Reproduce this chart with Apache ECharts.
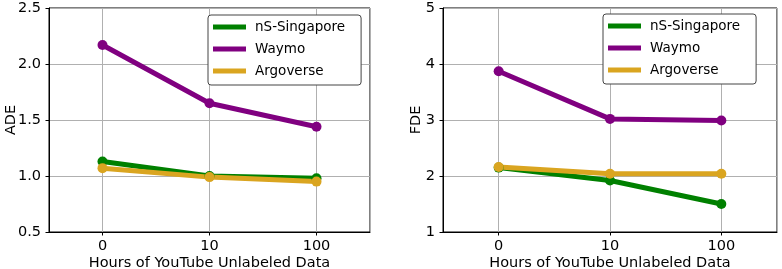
<!DOCTYPE html>
<html>
<head>
<meta charset="utf-8">
<script src="https://cdn.jsdelivr.net/npm/echarts@6/dist/echarts.min.js"></script>
<style>
  html, body { margin: 0; padding: 0; background: #fff; }
  #chart { width: 782px; height: 269px; }
</style>
</head>
<body>
<div id="chart"></div>
<script>
// x categories (hours of unlabeled data)
const hours = ['0', '10', '100']
const seriesNames = ['nS-Singapore', 'Waymo', 'Argoverse']
const seriesColors = ['#008000', '#800080', '#daa520']

// ADE per dataset
const adeSingapore = [1.13, 1.00, 0.98]
const adeWaymo     = [2.17, 1.65, 1.44]
const adeArgoverse = [1.07, 0.99, 0.95]

// FDE per dataset
const fdeSingapore = [2.15, 1.92, 1.50]
const fdeWaymo     = [3.87, 3.02, 2.99]
const fdeArgoverse = [2.16, 2.04, 2.04]

const FONT = 'DejaVu Sans'
const pts = arr => arr.map((v, i) => [i, v])

const chart = echarts.init(document.getElementById('chart'), null, { renderer: 'canvas' })

const grids = [
  { left: 49, top: 8, width: 321, height: 224 },
  { left: 443, top: 8, width: 334, height: 224 },
]

function xAxis(gridIndex) {
  return {
    type: 'value', gridIndex, min: -0.5, max: 2.5, splitNumber: 3,
    name: 'Hours of YouTube Unlabeled Data', nameLocation: 'middle', nameGap: 24,
    nameMoveOverlap: false,
    nameTextStyle: { color: '#000', fontSize: 14.5, fontFamily: FONT },
    axisLine: { show: true, onZero: false, lineStyle: { color: '#000', width: 1 } },
    axisTick: { show: true, inside: false, length: 3.5, lineStyle: { color: '#000' } },
    axisLabel: {
      color: '#000', fontSize: 14.5, fontFamily: FONT, margin: 7,
      showMinLabel: false, showMaxLabel: false,
      formatter: v => (Number.isInteger(v) && hours[v] != null ? hours[v] : ''),
    },
    splitLine: { show: true, lineStyle: { color: '#b0b0b0', width: 1 } },
  }
}

function yAxis(gridIndex, name, min, max, interval, digits, gap) {
  return {
    type: 'value', gridIndex, min, max, interval,
    name, nameLocation: 'middle', nameGap: gap, nameRotate: 90, nameMoveOverlap: false,
    nameTextStyle: { color: '#000', fontSize: 14.5, fontFamily: FONT },
    axisLine: { show: true, onZero: false, lineStyle: { color: '#000', width: 1 } },
    axisTick: { show: true, inside: false, length: 3.5, lineStyle: { color: '#000' } },
    axisLabel: { color: '#000', fontSize: 14.5, fontFamily: FONT, margin: 8, formatter: v => v.toFixed(digits) },
    splitLine: { show: true, lineStyle: { color: '#b0b0b0', width: 1 } },
  }
}

function legend(left, top) {
  return {
    data: seriesNames, orient: 'vertical', left, top,
    icon: 'rect', itemWidth: 33, itemHeight: 5, itemGap: 8,
    padding: [5, 16, 7, 5],
    backgroundColor: '#fff', borderColor: '#444', borderWidth: 1, borderRadius: 3,
    textStyle: { color: '#000', fontSize: 13.5, lineHeight: 14, fontFamily: FONT, padding: [0, 0, 0, 4] },
    selectedMode: false,
  }
}

function line(name, data, idx) {
  return {
    type: 'line', name, data: pts(data), xAxisIndex: idx, yAxisIndex: idx,
    color: seriesColors[seriesNames.indexOf(name)],
    symbol: 'circle', symbolSize: 10,
    lineStyle: { width: 5 },
    animation: false,
  }
}

const option = {
  backgroundColor: '#fff',
  animation: false,
  grid: grids.map(g => ({
    ...g, show: true, borderColor: '#000', borderWidth: 1, backgroundColor: 'transparent',
    containLabel: false, outerBoundsMode: 'none',
  })),
  xAxis: [xAxis(0), xAxis(1)],
  yAxis: [yAxis(0, 'ADE', 0.5, 2.5, 0.5, 1, 30), yAxis(1, 'FDE', 1, 5, 1, 0, 19)],
  legend: [legend(208, 15), legend(603, 14)],
  series: [
    line('nS-Singapore', adeSingapore, 0),
    line('Waymo', adeWaymo, 0),
    line('Argoverse', adeArgoverse, 0),
    line('nS-Singapore', fdeSingapore, 1),
    line('Waymo', fdeWaymo, 1),
    line('Argoverse', fdeArgoverse, 1),
  ],
}
chart.setOption(option, true)
</script>
</body>
</html>
